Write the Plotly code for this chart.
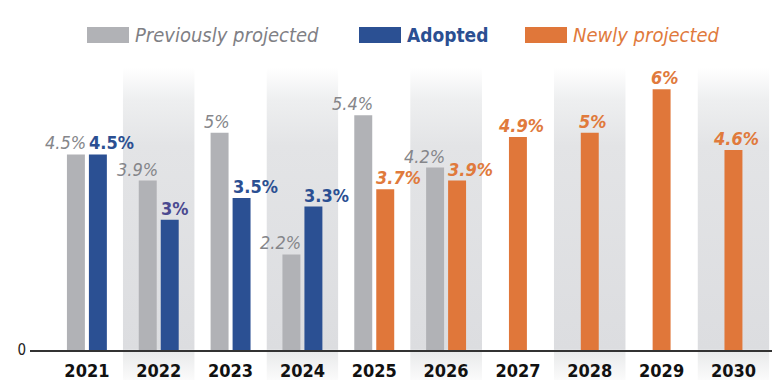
import base64
import plotly.graph_objects as go

# ---- data ----
years = ["2021", "2022", "2023", "2024", "2025", "2026", "2027", "2028", "2029", "2030"]
prev_years = ["2021", "2022", "2023", "2024", "2025", "2026"]
prev_values = [4.5, 3.9, 5.0, 2.2, 5.4, 4.2]
adopted_years = ["2021", "2022", "2023", "2024"]
adopted_values = [4.5, 3.0, 3.5, 3.3]
new_years = ["2025", "2026", "2027", "2028", "2029", "2030"]
new_values = [3.7, 3.9, 4.9, 5.0, 6.0, 4.6]
band_years = ["2022", "2024", "2026", "2028", "2030"]
legend_names = ["Previously projected", "Adopted", "Newly projected"]

# ---- style ----
FONT = "DejaVu Sans Condensed"
GRAY, BLUE, ORANGE = "#b1b2b6", "#2b5093", "#e0773a"
GRAY_T, BLUE_T, ORANGE_T = "#85868a", "#2b4f92", "#e07a3c"
BW = 0.25      # bar width (category units)
GAP = 0.028    # half gap between paired bars

OFF = 8                       # page body margin of the browser
WIN_W, WIN_H = 780, 380
W, H = WIN_W - OFF, WIN_H - OFF
AXIS_X, AXIS_Y = 30, 350      # window pixel position of the axis corner
ML, MR = AXIS_X - OFF, 0
MB = WIN_H - AXIS_Y
MT = 60 - OFF
PW, PH = W - ML - MR, H - MT - MB


def px_x(px):
    return (px - OFF - ML) / PW


def px_y(py):
    return (H - MB - (py - OFF)) / PH


fig = go.Figure()

fig.add_trace(go.Bar(x=prev_years, y=prev_values, marker_color=GRAY, width=BW,
                     offset=-GAP - BW, marker_line_width=0, name=legend_names[0]))
fig.add_trace(go.Bar(x=adopted_years, y=adopted_values, marker_color=BLUE, width=BW,
                     offset=GAP, marker_line_width=0, name=legend_names[1]))
new_offsets = [GAP if y in prev_years else -BW / 2 for y in new_years]
fig.add_trace(go.Bar(x=new_years, y=new_values, marker_color=ORANGE, width=BW,
                     offset=new_offsets, marker_line_width=0, name=legend_names[2]))


def fmt(v):
    return f"{v:g}%"


annotations = []
for yr, v in zip(prev_years, prev_values):
    annotations.append(dict(x=years.index(yr), y=v, text=fmt(v), xanchor="right", yanchor="bottom",
                            xshift=1, yshift=-1, showarrow=False,
                            font=dict(family=FONT, size=18, color=GRAY_T, style="italic")))
for yr, v in zip(adopted_years, adopted_values):
    col = "#4b4a90" if yr == "2022" else BLUE_T
    annotations.append(dict(x=years.index(yr), y=v, text=fmt(v), xanchor="left", yanchor="bottom",
                            xshift=0, yshift=-1, showarrow=False,
                            font=dict(family=FONT, size=18, color=col, weight="bold")))
for yr, v in zip(new_years, new_values):
    paired = yr in prev_years
    annotations.append(dict(x=years.index(yr), y=v, text=fmt(v),
                            xanchor="left" if paired else "center", yanchor="bottom",
                            xshift=0 if paired else 3, yshift=-1, showarrow=False,
                            font=dict(family=FONT, size=18, color=ORANGE_T, style="italic",
                                      weight="bold")))

# ---- manual legend ----
shapes = []
legend_items = [
    (87, 129, legend_names[0], GRAY, "#7f8085", "italic", "normal", 20),
    (359, 401, legend_names[1], BLUE, "#2b4f92", "normal", "bold", 19),
    (525, 567, legend_names[2], ORANGE, "#e07a3c", "italic", "normal", 20),
]
for x0, x1, name, col, tcol, st, wt, fs in legend_items:
    shapes.append(dict(type="rect", xref="paper", yref="paper", x0=px_x(x0), x1=px_x(x1),
                       y0=px_y(43), y1=px_y(27), fillcolor=col, line_width=0))
    annotations.append(dict(xref="paper", yref="paper", x=px_x(x1 + 4), y=px_y(35), text=name,
                            xanchor="left", yanchor="middle", showarrow=False,
                            font=dict(family=FONT, size=fs, color=tcol, style=st, weight=wt)))

# ---- gradient background bands ----
svg = (
    '<svg xmlns="http://www.w3.org/2000/svg" width="10" height="312" viewBox="0 0 10 312" '
    'preserveAspectRatio="none"><defs><linearGradient id="g" x1="0" y1="0" x2="0" y2="1">'
    '<stop offset="0" stop-color="#ffffff"/>'
    '<stop offset="0.1" stop-color="#eeeff0"/>'
    '<stop offset="0.25" stop-color="#e3e4e6"/>'
    '<stop offset="0.9" stop-color="#dcdde0"/>'
    '<stop offset="0.905" stop-color="#e8e9ea"/>'
    '<stop offset="1" stop-color="#fbfbfb"/>'
    '</linearGradient></defs><rect x="0" y="0" width="10" height="312" fill="url(#g)"/></svg>'
)
src = "data:image/svg+xml;base64," + base64.b64encode(svg.encode()).decode()
images = []
for yr in band_years:
    i = years.index(yr)
    images.append(dict(source=src, xref="x", yref="paper", x=i - 0.5, y=px_y(68),
                       sizex=1.0, sizey=px_y(68) - px_y(380), xanchor="left", yanchor="top",
                       sizing="stretch", layer="below"))

fig.update_layout(
    width=W, height=H,
    margin=dict(l=ML, r=MR, t=MT, b=MB, pad=0),
    paper_bgcolor="white", plot_bgcolor="rgba(0,0,0,0)",
    barmode="overlay", showlegend=False,
    font=dict(family=FONT),
    xaxis=dict(type="category", categoryorder="array", categoryarray=years,
               range=[-0.792, 9.648], showline=True, linecolor="#333333", linewidth=2,
               ticks="", showgrid=False, ticklabelstandoff=3,
               tickfont=dict(family=FONT, size=18, color="#111111", weight="bold")),
    yaxis=dict(range=[0, 6.674], tickvals=[0], ticktext=["0"], showgrid=False, zeroline=False,
               showline=False, ticks="", ticklabelstandoff=3,
               tickfont=dict(family=FONT, size=15, color="#222222")),
    annotations=annotations, shapes=shapes, images=images,
)

fig.write_html("out.html")
